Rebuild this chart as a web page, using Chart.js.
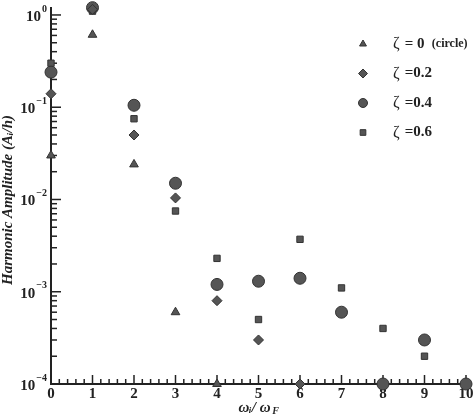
<!DOCTYPE html>
<html><head><meta charset="utf-8">
<script src="https://cdn.jsdelivr.net/npm/chart.js@4/dist/chart.umd.min.js"></script>
<style>body{margin:0;background:#fff}#wrap{width:474px;height:416px}</style>
</head><body><div id="wrap"><canvas id="c"></canvas></div>
<script>
// harmonic order i, amplitude
var harmonics = [0, 1, 2, 3, 4, 5, 6, 7, 8, 9, 10];
var zeta0 = [0.03, 0.61, 0.024, 0.0006, 0.0001];
var zeta02 = [0.14, 1.15, 0.05, 0.0104, 0.0008, 0.0003, 0.0001];
var zeta04 = [0.24, 1.2, 0.105, 0.015, 0.0012, 0.0013, 0.0014, 0.0006, 0.0001, 0.0003, 0.0001];
var zeta06 = [0.3, 1.1, 0.075, 0.0075, 0.0023, 0.0005, 0.0037, 0.0011, 0.0004, 0.0002];
var legendValues = ['0', '0.2', '0.4', '0.6'];
var decades = [0, -1, -2, -3, -4];

function pts(arr) { return arr.map(function (v, i) { return {x: harmonics[i], y: v}; }); }
function ds(label, arr, style, r) {
    return {label: label, data: pts(arr), pointStyle: style, pointRadius: r, clip: false,
        backgroundColor: '#555', borderColor: '#333', borderWidth: 1, showLine: false};
}

var axesPlugin = {
    id: 'axes',
    beforeDatasetsDraw: function (chart) {
        var ctx = chart.ctx, a = chart.chartArea, xs = chart.scales.x, ys = chart.scales.y;
        ctx.save();
        ctx.strokeStyle = '#222'; ctx.lineWidth = 2;
        ctx.beginPath(); ctx.moveTo(a.left, a.top); ctx.lineTo(a.left, a.bottom); ctx.lineTo(a.right, a.bottom); ctx.stroke();
        ctx.lineWidth = 1.5;
        // x ticks
        for (var t = 0; t <= 10; t += 0.2) {
            var px = xs.getPixelForValue(t), major = Math.abs(t - Math.round(t)) < 1e-6;
            ctx.beginPath(); ctx.moveTo(px, a.bottom); ctx.lineTo(px, a.bottom - (major ? 9 : 5)); ctx.stroke();
        }
        ctx.fillStyle = '#222'; ctx.font = 'bold 15px "Liberation Serif"'; ctx.textAlign = 'center'; ctx.textBaseline = 'top';
        harmonics.forEach(function (h) { ctx.fillText(String(h), xs.getPixelForValue(h), a.bottom + 3); });
        // y ticks
        decades.forEach(function (d) {
            var py = ys.getPixelForValue(Math.pow(10, d));
            ctx.beginPath(); ctx.moveTo(a.left, py); ctx.lineTo(a.left + 10, py); ctx.stroke();
            for (var m = 2; m <= 9; m++) {
                var v = m * Math.pow(10, d);
                if (v > ys.max) break;
                var q = ys.getPixelForValue(v);
                ctx.beginPath(); ctx.moveTo(a.left, q); ctx.lineTo(a.left + 6, q); ctx.stroke();
            }
            ctx.textBaseline = 'middle';
            var exp = String(d).replace('-', '−');
            ctx.font = 'bold 10px "Liberation Serif"';
            var ew = ctx.measureText(exp).width;
            ctx.textAlign = 'left'; ctx.fillText(exp, a.left - 4 - ew, py - 6);
            ctx.font = 'bold 15px "Liberation Serif"'; ctx.textAlign = 'right';
            ctx.fillText('10', a.left - 5 - ew, py + 2);
        });
        // axis titles
        ctx.font = 'italic bold 15px "Liberation Serif"'; ctx.textAlign = 'center'; ctx.textBaseline = 'alphabetic';
        ctx.fillText('ωᵢ/ ω', xs.getPixelForValue(5) - 4, 412);
        ctx.font = 'italic bold 10px "Liberation Serif"'; ctx.fillText('F', xs.getPixelForValue(5) + 17, 414);
        ctx.save(); ctx.translate(12, 200); ctx.rotate(-Math.PI / 2);
        ctx.font = 'italic bold 15px "Liberation Serif"'; ctx.fillText('Harmonic Amplitude (Aᵢ/h)', 0, 0);
        ctx.restore();
        // legend
        var styles = ['triangle', 'rectRot', 'circle', 'rect'], rs = [4, 4.5, 4.5, 4];
        styles.forEach(function (s, i) {
            var y = 44 + i * 29.5;
            ctx.fillStyle = '#555'; ctx.strokeStyle = '#333'; ctx.lineWidth = 1;
            Chart.helpers.drawPoint(ctx, {pointStyle: s, radius: rs[i], borderWidth: 1}, 363, y);
            ctx.fillStyle = '#222'; ctx.textAlign = 'left'; ctx.textBaseline = 'middle';
            ctx.font = '16px "Liberation Serif"'; ctx.fillText('ζ', 393, y);
            ctx.font = 'bold 15px "Liberation Serif"';
            var txt = i === 0 ? ' = 0' : ' =' + legendValues[i];
            ctx.fillText(txt, 401, y);
            if (i === 0) { ctx.font = 'bold 12px "Liberation Serif"'; ctx.fillText('(circle)', 401 + ctx.measureText(txt).width + 12, y); }
        });
        ctx.restore();
    }
};

new Chart(document.getElementById('c'), {
    type: 'scatter',
    data: {datasets: [
        ds('ζ = 0', zeta0, 'triangle', 5),
        ds('ζ =0.2', zeta02, 'rectRot', 5),
        ds('ζ =0.4', zeta04, 'circle', 6),
        ds('ζ =0.6', zeta06, 'rect', 4.5)
    ]},
    options: {
        responsive: true, maintainAspectRatio: false, animation: false,
        layout: {padding: {left: 51, right: 8, top: 5, bottom: 32}},
        plugins: {legend: {display: false}, tooltip: {enabled: false}},
        scales: {
            x: {type: 'linear', min: 0, max: 10, display: false},
            y: {type: 'logarithmic', min: 0.0001, max: 1.22, display: false}
        }
    },
    plugins: [axesPlugin]
});
</script></body></html>
